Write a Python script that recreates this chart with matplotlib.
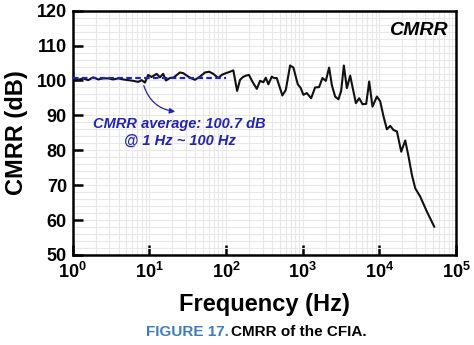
import numpy as np
import matplotlib.pyplot as plt
from matplotlib.ticker import LogLocator, MultipleLocator, NullFormatter, FixedLocator, FixedFormatter

plt.rcParams['font.family'] = ['Liberation Sans', 'DejaVu Sans']
plt.rcParams['mathtext.fontset'] = 'custom'
plt.rcParams['mathtext.rm'] = 'Liberation Sans:bold'
plt.rcParams['mathtext.bf'] = 'Liberation Sans:bold'

# measured CMRR vs frequency
freq = [1.0, 1.07, 1.18, 1.37, 1.60, 1.86, 2.16, 2.51, 2.92, 3.39, 3.94, 4.58,
        5.32, 6.18, 7.18, 7.96, 8.79, 9.70, 10.7, 11.9, 12.5, 13.8, 15.2, 16.5,
        18.6, 21.0, 25.1, 27.8, 31.3, 34.7, 39.5, 45.9, 53.3, 60.7, 68.5, 79.6,
        88.1, 100, 113, 125, 140, 153, 167, 183, 200, 221, 253, 279, 308, 331,
        358, 396, 425, 460, 508, 545, 604, 687, 759, 865, 942, 1024, 1135, 1291,
        1456, 1641, 1813, 2008, 2218, 2405, 2656, 2934, 3182, 3450, 3777, 4171,
        4607, 4953, 5471, 6042, 6749, 7382, 8151, 9303, 10280, 11350, 12560,
        13870, 15320, 16970, 19320, 21790, 24060, 26650, 29430, 34200, 41790,
        52090]
cmrr = [100.5, 100.66, 100.2, 100.6, 100.1, 100.9, 100.3, 100.6, 100.6, 100.3,
        100.6, 100.3, 100.1, 99.9, 99.6, 100.1, 99.4, 101.6, 101.0, 101.6,
        101.9, 100.9, 101.9, 100.0, 100.7, 100.9, 102.3, 102.1, 101.3, 100.7,
        100.2, 101.1, 102.3, 102.5, 101.9, 100.7, 101.6, 102.1, 102.5, 102.9,
        97.0, 100.2, 101.0, 101.4, 101.6, 99.7, 97.6, 99.9, 99.5, 100.8, 98.9,
        101.1, 100.7, 100.7, 97.8, 95.7, 97.3, 104.3, 103.7, 98.9, 97.9, 95.9,
        96.4, 94.9, 98.0, 98.1, 100.7, 99.9, 103.7, 98.7, 95.4, 94.6, 97.0,
        104.3, 97.8, 101.4, 96.8, 93.5, 94.9, 93.2, 93.3, 99.7, 92.5, 95.4,
        94.0, 89.7, 86.0, 87.0, 85.8, 85.4, 79.6, 82.8, 78.2, 72.9, 69.1, 66.7,
        62.4, 58.1]

avg_range = [1, 100]
avg_value = 100.7

xticks = [1, 10, 100, 1000, 10000, 100000]
xticklabels = [r'$\mathbf{10^{%d}}$' % i for i in range(6)]

blue = '#2323b4'

fig = plt.figure(figsize=(4.74, 3.45), dpi=100)
ax = fig.add_axes([0.153, 0.261, 0.809, 0.708])

ax.plot(freq, cmrr, color='#111111', lw=1.5, zorder=3)
ax.plot(avg_range, [avg_value, avg_value], color=blue, lw=1.6,
        ls=(0, (2.5, 1.5)), zorder=4)

ax.set_xscale('log')
ax.set_xlim(1, 1e5)
ax.set_ylim(50, 120)
ax.yaxis.set_major_locator(MultipleLocator(10))
ax.yaxis.set_minor_locator(MultipleLocator(2))
ax.xaxis.set_major_locator(FixedLocator(xticks))
ax.xaxis.set_major_formatter(FixedFormatter(xticklabels))
ax.xaxis.set_minor_locator(LogLocator(base=10, subs=np.arange(2, 10)))
ax.xaxis.set_minor_formatter(NullFormatter())

ax.grid(True, which='both', color='#e8e8e8', lw=0.8, zorder=0)
ax.set_axisbelow(True)

for s in ax.spines.values():
    s.set_linewidth(1.8)

ax.tick_params(which='major', direction='in', length=7, width=1.8,
               labelsize=13, pad=4)
ax.tick_params(axis='x', which='major', pad=5)
ax.tick_params(which='minor', length=0)
for lab in ax.get_yticklabels():
    lab.set_fontweight('bold')

ax.set_xlabel('Frequency (Hz)', fontsize=17, fontweight='bold', labelpad=8)
ax.set_ylabel('CMRR (dB)', fontsize=17, fontweight='bold', labelpad=6)

ax.text(0.978, 0.955, 'CMRR', transform=ax.transAxes, ha='right', va='top',
        fontsize=14, fontweight='bold', style='italic')

ax.text(25, 87.4, 'CMRR average: 100.7 dB', color=blue, ha='center',
        va='center', fontsize=10.5, fontweight='bold', style='italic')
ax.text(25, 82.6, '@ 1 Hz ~ 100 Hz', color=blue, ha='center',
        va='center', fontsize=10.5, fontweight='bold', style='italic')

ax.annotate('', xy=(23.7, 91.0), xytext=(8.3, 99.3),
            arrowprops=dict(arrowstyle='-|>', color=blue, lw=0.9,
                            mutation_scale=8,
                            connectionstyle='arc3,rad=0.35'))

fig.text(0.482, 0.037, 'FIGURE 17.', color='#3d7cc0', ha='right', va='center',
         fontsize=11, fontweight='bold')
fig.text(0.488, 0.037, 'CMRR of the CFIA.', color='black', ha='left',
         va='center', fontsize=11, fontweight='bold')

fig.savefig('out.png', dpi=100)
